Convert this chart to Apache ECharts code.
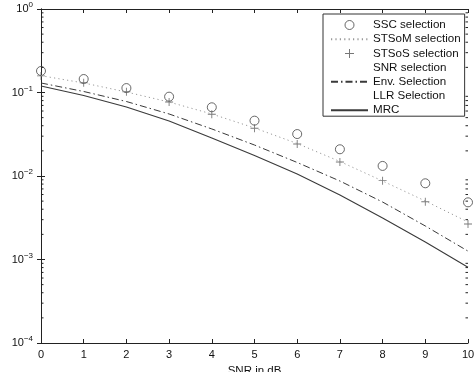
<!DOCTYPE html>
<html>
<head>
<meta charset="utf-8">
<script src="https://cdn.jsdelivr.net/npm/echarts@6/dist/echarts.min.js"></script>
<style>
html,body{margin:0;padding:0;background:#fff;}
#chart{width:474px;height:372px;}
</style>
</head>
<body>
<div id="chart"></div>
<script>
// ---- data ----
const snrDb = [0, 1, 2, 3, 4, 5, 6, 7, 8, 9, 10];
const sscSelection   = [0.181, 0.145, 0.113, 0.0891, 0.0665, 0.0460, 0.0318, 0.0209, 0.0132, 0.00818, 0.00484];
const stsomSelection = [0.159, 0.130, 0.1014, 0.0769, 0.0553, 0.0376, 0.0245, 0.01492, 0.00871, 0.00502, 0.00281];
const stsosSelection = [0.158, 0.131, 0.102, 0.0769, 0.0548, 0.0373, 0.0242, 0.01472, 0.00879, 0.00492, 0.00266];
const snrSelection   = [];
const envSelection   = [0.130, 0.1028, 0.0780, 0.0553, 0.0366, 0.0235, 0.01452, 0.00871, 0.00488, 0.00252, 0.00126];
const llrSelection   = [];
const mrc            = [0.1197, 0.0920, 0.0670, 0.0456, 0.0285, 0.0176, 0.01057, 0.00592, 0.00314, 0.00162, 0.000807];
const xTicks = [0, 1, 2, 3, 4, 5, 6, 7, 8, 9, 10];
const yDecades = [-4, -3, -2, -1, 0];
const minorMantissas = [2, 3, 4, 5, 6, 7, 8, 9];
const legendNames = ['SSC selection', 'STSoM selection', 'STSoS selection', 'SNR selection', 'Env. Selection', 'LLR Selection', 'MRC'];

const minorTickValues = [];
yDecades.slice(0, -1).forEach(e => minorMantissas.forEach(m => minorTickValues.push(m * Math.pow(10, e))));

const pair = arr => arr.map((v, i) => [snrDb[i], v]);
const lineCol = '#3a3a3a';
const fontFam = 'Liberation Sans, Arial, Helvetica, sans-serif';
const plusPath = 'path://M4.45,0H5.55V4.45H10V5.55H5.55V10H4.45V5.55H0V4.45H4.45Z';
const markerSeries = ['SSC selection', 'STSoS selection'];

const chart = echarts.init(document.getElementById('chart'), null, {renderer: 'canvas'});

const axisCommon = {
  axisLine: {show: true, lineStyle: {color: '#222', width: 1}},
  axisTick: {show: true, inside: true, length: 4, lineStyle: {color: '#222'}},
  splitLine: {show: false}
};

chart.setOption({
  animation: false,
  backgroundColor: '#fff',
  textStyle: {fontFamily: fontFam},
  grid: {left: 41, right: 6, top: 9, bottom: 29, containLabel: false, outerBoundsMode: 'none'},
  legend: {
    orient: 'vertical',
    left: 323, top: 14,
    padding: [5, 4, 0, 7],
    itemWidth: 37, itemHeight: 9, itemGap: 2.2,
    borderColor: '#333', borderWidth: 1,
    backgroundColor: '#fff',
    textStyle: {fontSize: 11.6, lineHeight: 12, color: '#111', fontFamily: fontFam},
    data: legendNames.map(n => markerSeries.includes(n)
      ? (n === 'SSC selection'
          ? {name: n, itemStyle: {color: 'rgba(255,255,255,0)', borderColor: '#444', borderWidth: 1}}
          : {name: n})
      : {name: n, itemStyle: {opacity: 0}})
  },
  xAxis: [
    Object.assign({
      type: 'value', min: 0, max: 10, interval: 1,
      name: 'SNR in dB', nameLocation: 'middle', nameGap: 21,
      nameTextStyle: {fontSize: 11.5, color: '#111'},
      axisLabel: {fontSize: 11, color: '#111', margin: 6, formatter: v => xTicks.includes(v) ? String(v) : ''}
    }, axisCommon),
    Object.assign({
      type: 'value', min: 0, max: 10, interval: 1, position: 'top',
      axisLabel: {show: false}
    }, axisCommon)
  ],
  yAxis: [
    Object.assign({
      type: 'log', logBase: 10, min: 1e-4, max: 1,
      name: 'BER', nameLocation: 'middle', nameGap: 27, nameRotate: 90,
      nameTextStyle: {fontSize: 11.5, color: '#111'},
      axisLabel: {
        fontSize: 11, color: '#111', margin: 8,
        formatter: v => {
          const e = Math.round(Math.log10(v));
          return '{b|10}{s|' + (e < 0 ? '\u2212' + (-e) : e) + '}';
        },
        rich: {
          b: {fontSize: 11, color: '#111', fontFamily: fontFam},
          s: {fontSize: 8, color: '#111', fontFamily: fontFam, verticalAlign: 'bottom', padding: [0, 0, 8, 0]}
        }
      }
    }, axisCommon),
    Object.assign({
      type: 'log', logBase: 10, min: 1e-4, max: 1, position: 'right',
      axisLabel: {show: false}
    }, axisCommon)
  ],
  series: [
    {
      name: 'minorTicks', type: 'custom', silent: true, legendHoverLink: false,
      data: minorTickValues.map(v => [0, v]),
      clip: false, z: 5,
      renderItem: (params, api) => {
        const v = api.value(1);
        const pl = api.coord([0, v]);
        const pr = api.coord([10, v]);
        return {
          type: 'group',
          children: [
            {type: 'line', shape: {x1: pl[0], y1: pl[1], x2: pl[0] + 2.5, y2: pl[1]}, style: {stroke: '#222', lineWidth: 1}},
            {type: 'line', shape: {x1: pr[0], y1: pr[1], x2: pr[0] - 2.5, y2: pr[1]}, style: {stroke: '#222', lineWidth: 1}}
          ]
        };
      }
    },
    {
      name: 'SSC selection', type: 'scatter', data: pair(sscSelection),
      symbol: 'circle', symbolSize: 9,
      itemStyle: {color: 'rgba(255,255,255,0)', borderColor: '#444', borderWidth: 1}
    },
    {
      name: 'STSoM selection', type: 'line', data: pair(stsomSelection),
      symbol: 'none', smooth: false,
      lineStyle: {color: '#999', width: 1, type: [1.2, 3.2]},
      itemStyle: {color: '#999'}
    },
    {
      name: 'STSoS selection', type: 'scatter', data: pair(stsosSelection),
      symbol: plusPath, symbolSize: 8,
      itemStyle: {color: '#555'}
    },
    {
      name: 'SNR selection', type: 'line', data: pair(snrSelection),
      symbol: 'none',
      lineStyle: {color: 'rgba(0,0,0,0)', width: 1}, itemStyle: {color: 'rgba(0,0,0,0)'}
    },
    {
      name: 'Env. Selection', type: 'line', data: pair(envSelection),
      symbol: 'none',
      lineStyle: {color: lineCol, width: 1, type: [7, 3, 1.5, 3]},
      itemStyle: {color: lineCol}
    },
    {
      name: 'LLR Selection', type: 'line', data: pair(llrSelection),
      symbol: 'none',
      lineStyle: {color: 'rgba(0,0,0,0)', width: 1}, itemStyle: {color: 'rgba(0,0,0,0)'}
    },
    {
      name: 'MRC', type: 'line', data: pair(mrc),
      symbol: 'none',
      lineStyle: {color: lineCol, width: 1.1},
      itemStyle: {color: lineCol}
    }
  ]
});
</script>
</body>
</html>
